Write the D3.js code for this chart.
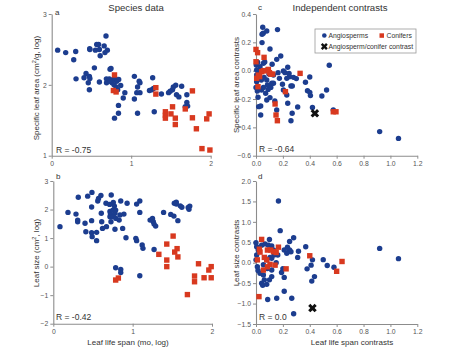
<!DOCTYPE html>
<html>
<head>
<meta charset="utf-8">
<script src="https://cdn.jsdelivr.net/npm/d3@7"></script>
<style>
  html, body { margin: 0; padding: 0; background: #fff; }
  svg { display: block; font-family: "Liberation Sans", Arial, Helvetica, sans-serif; }
</style>
</head>
<body>
<svg id="chart" width="474" height="355"></svg>
<script>
// ---------- DATA ----------
// Panel a: Specific leaf area (log) vs leaf life span (log)
const slaAngio = [
  [0.075,2.49],[0.176,2.455],[0.302,2.47],[0.277,2.355],[0.306,2.085],[0.407,2.10],[0.432,2.16],
  [0.478,2.51],[0.48,2.50],[0.474,2.12],[0.48,2.09],[0.46,2.03],[0.474,1.93],[0.537,2.24],
  [0.566,2.57],[0.59,2.57],[0.55,2.49],[0.60,2.50],[0.61,2.41],[0.60,2.04],[0.66,2.55],
  [0.683,2.69],[0.70,2.49],[0.67,2.455],[0.69,2.03],[0.734,2.22],[0.746,2.23],[0.688,2.085],
  [0.725,2.085],[0.776,2.076],[0.797,2.09],[0.818,2.05],[0.843,2.076],[0.759,2.03],[0.734,2.05],
  [0.784,2.0],[0.868,1.99],[0.81,1.97],[0.83,1.93],[0.79,1.53],[0.84,1.71],[0.84,1.60],
  [0.90,1.815],[0.92,1.89],[1.04,2.12],[1.04,1.80],[1.07,1.89],[1.08,1.97],[1.10,2.05],
  [1.11,2.03],[1.08,1.60],[1.11,1.89],[1.26,1.93],[1.27,2.10],[1.23,1.92],[1.28,1.95],
  [1.29,1.62],[1.38,1.87],[1.47,1.89],[1.49,1.91],[1.52,1.93],[1.53,1.97],[1.56,1.995],
  [1.57,1.86],[1.60,1.83],[1.635,1.98],[1.70,1.86],[1.70,1.75],[1.71,1.70],[1.68,1.69]
];
const slaConifer = [
  [0.79,2.14],[0.776,1.92],[0.81,1.90],[1.31,1.96],[1.31,1.87],[1.52,1.69],[1.43,1.62],
  [1.43,1.57],[1.43,1.53],[1.50,1.59],[1.555,1.53],[1.555,1.44],[1.68,1.66],[1.77,1.915],
  [1.77,1.535],[1.82,1.38],[1.89,1.10],[1.99,1.08],[1.95,1.52],[1.98,1.59]
];
// Panel b: Leaf size (log) vs leaf life span (log)
const sizeAngio = [
  [0.084,1.40],[0.185,1.90],[0.286,1.84],[0.307,1.63],[0.307,1.57],[0.315,2.43],[0.40,1.52],
  [0.41,1.22],[0.433,2.47],[0.483,2.09],[0.487,2.60],[0.483,1.61],[0.483,1.19],[0.49,1.05],
  [0.546,1.20],[0.546,0.91],[0.56,2.30],[0.57,2.39],[0.60,2.49],[0.605,1.87],[0.61,1.57],
  [0.62,1.34],[0.664,2.22],[0.67,1.40],[0.73,2.51],[0.71,2.18],[0.714,1.93],[0.72,1.84],
  [0.714,1.75],[0.727,1.57],[0.756,2.25],[0.77,2.12],[0.75,1.98],[0.777,1.87],[0.786,1.98],
  [0.756,1.75],[0.79,1.69],[0.777,1.31],[0.85,2.30],[0.84,1.81],[0.83,1.63],[0.89,1.84],
  [0.874,1.34],[0.916,1.01],[0.93,2.22],[0.786,-0.04],[0.85,-0.10],[0.85,-0.21],[1.05,2.19],
  [1.09,2.30],[1.09,1.90],[1.04,0.99],[1.05,0.91],[1.12,0.76],[1.13,0.64],[1.09,-0.32],
  [1.22,1.63],[1.25,1.69],[1.26,1.57],[1.27,1.49],[1.29,1.42],[1.27,0.60],[1.39,1.90],
  [1.48,1.83],[1.52,1.77],[1.525,2.22],[1.55,2.26],[1.55,2.19],[1.57,1.61],[1.60,2.13],
  [1.62,2.08],[1.70,2.07],[1.72,2.12],[1.71,2.01]
];
const sizeConifer = [
  [0.786,-0.47],[0.82,-0.40],[1.33,0.43],[1.43,0.79],[1.43,0.23],[1.43,0.00],[1.51,1.07],
  [1.53,0.51],[1.56,0.63],[1.57,0.34],[1.69,-0.98],[1.78,-0.33],[1.78,-0.53],[1.83,0.10],
  [1.90,-0.39],[1.96,-0.12],[1.99,0.00],[1.99,-0.39]
];
// Panel c: SLA contrasts vs leaf life span contrasts
const slaContrAngio = [
  [0.05,0.306],[0.054,0.264],[0.045,0.257],[0.08,0.28],[0.16,0.29],[0.045,0.198],[0.104,0.153],
  [0.002,0.04],[0.012,0.059],[0.03,0.028],[0.005,0.005],[0.02,-0.007],[0.055,0.052],[0.065,0.061],
  [0.12,0.045],[0.154,0.08],[0.184,0.104],[0.164,-0.014],[0.204,-0.002],[0.216,-0.014],[0.236,0.024],
  [0.246,-0.019],[0.249,-0.042],[0.229,-0.054],[0.279,-0.047],[0.30,-0.056],[0.26,-0.108],[0.27,-0.108],
  [0.197,-0.096],[0.204,-0.136],[0.229,-0.172],[0.236,-0.23],[0.31,-0.256],[0.269,-0.30],[0.26,-0.353],
  [0.368,-0.082],[0.383,-0.141],[0.40,-0.045],[0.40,-0.153],[0.405,-0.176],[0.42,-0.259],[0.49,-0.179],
  [0.525,-0.136],[0.545,0.038],[0.575,-0.278],[0.92,-0.43],[1.06,-0.478],
  [0.005,-0.031],[0.005,-0.078],[0.0,-0.118],[0.01,-0.143],[0.015,-0.188],[0.02,-0.254],[0.035,-0.313],
  [0.035,-0.249],[0.04,-0.066],[0.06,-0.047],[0.08,-0.066],[0.085,-0.101],[0.09,-0.132],[0.11,-0.118],
  [0.117,-0.089],[0.097,-0.024],[0.13,-0.031],[0.08,0.005],[0.072,-0.16],[0.08,-0.207],[0.104,-0.19],
  [0.042,-0.136],[0.055,-0.118],[0.14,-0.214],[0.154,-0.278],[0.174,-0.054],[0.13,-0.089]
];
const slaContrConifer = [
  [0.0,0.15],[0.012,0.127],[0.0,0.063],[0.06,0.094],[0.017,-0.031],[0.005,-0.054],[0.015,-0.113],
  [0.042,-0.007],[0.055,0.0],[0.075,0.0],[0.092,0.009],[0.10,-0.014],[0.11,-0.024],[0.124,-0.024],
  [0.027,-0.042],[0.142,-0.235],[0.149,-0.313],[0.159,-0.353],[0.219,-0.148],[0.328,-0.019],
  [0.575,-0.29],[0.595,-0.29]
];
const slaContrCross = [[0.438,-0.301]];
// Panel d: Leaf size contrasts vs leaf life span contrasts
const sizeContrAngio = [
  [0.167,1.51],[0.18,0.785],[0.0,0.49],[0.10,0.57],[0.28,0.61],[0.25,0.52],[0.37,0.39],
  [0.21,0.31],[0.234,0.38],[0.25,0.31],[0.26,0.27],[0.229,0.23],[0.316,0.28],[0.31,0.13],
  [0.42,0.07],[0.50,0.075],[0.53,-0.07],[0.58,-0.11],[0.38,-0.15],[0.41,-0.06],[0.20,-0.145],
  [0.21,-0.36],[0.19,-0.24],[0.435,-0.34],[0.415,-0.45],[0.21,-0.70],[0.266,-0.87],[0.28,-1.25],
  [0.154,-0.87],[0.087,-0.90],[0.92,0.35],[1.06,0.10],[0.10,-0.42],[0.117,-0.34],[0.042,-0.50],
  [0.05,-0.55],[0.08,-0.53],[0.062,-0.42],
  [0.005,0.39],[0.017,0.31],[0.005,0.19],[0.0,0.07],[0.01,-0.1],[0.015,-0.19],[0.03,-0.26],
  [0.055,-0.30],[0.042,0.43],[0.067,0.46],[0.092,0.43],[0.117,0.41],[0.13,0.31],[0.134,0.19],
  [0.104,0.13],[0.08,0.07],[0.055,-0.05],[0.085,-0.14],[0.117,-0.18],[0.117,0.11],[0.15,0.0],
  [0.162,0.19]
];
const sizeContrConifer = [
  [0.042,0.57],[0.025,0.33],[0.03,0.26],[0.01,0.07],[0.062,0.13],[0.085,0.31],[0.11,0.31],
  [0.13,0.27],[0.15,0.25],[0.167,0.38],[0.08,0.07],[0.104,-0.04],[0.055,-0.18],[0.085,-0.10],
  [0.142,-0.06],[0.224,-0.15],[0.40,0.17],[0.60,-0.21],[0.64,0.03],[0.022,-0.83]
];
const sizeContrCross = [[0.42,-1.11]];

// Tick values
const ticksSpeciesX = [0, 1, 2];
const ticksSlaY = [1, 2, 3];
const ticksSizeY = [-2, -1, 0, 1, 2, 3];
const ticksContrX = [0, 0.2, 0.4, 0.6, 0.8, 1.0, 1.2];
const ticksSlaContrY = [-0.6, -0.4, -0.2, 0.0, 0.2, 0.4];
const ticksSizeContrY = [-1.5, -1.0, -0.5, 0.0, 0.5, 1.0, 1.5, 2.0];

// Labels
const rValues = ["R = -0.75", "R = -0.42", "R = -0.64", "R = 0.0"];
const legendLabels = ["Angiosperms", "Conifers", "Angiosperm/conifer contrast"];

// ---------- STYLE ----------
const BLUE = "#1c3d8f";
const RED = "#d8391f";
const AXIS = "#8c8c8c";
const TEXT = "#333";

const svg = d3.select("#chart");

const panels = [
  { letter: "a", angio: slaAngio, conifer: slaConifer, cross: null,
    xd: [0, 2], xr: [51.7, 210.7], yd: [1, 3], yr: [155.7, 14],
    xt: ticksSpeciesX, yt: ticksSlaY, xf: d3.format("d"), yf: d3.format("d"),
    r: rValues[0], letterPos: [55, 15], rPos: [56, 153] },
  { letter: "b", angio: sizeAngio, conifer: sizeConifer, cross: null,
    xd: [0, 2], xr: [53.3, 212], yd: [-2, 3], yr: [323.7, 181],
    xt: ticksSpeciesX, yt: ticksSizeY, xf: d3.format("d"), yf: d3.format("d"),
    r: rValues[1], letterPos: [56, 179], rPos: [56, 320] },
  { letter: "c", angio: slaContrAngio, conifer: slaContrConifer, cross: slaContrCross,
    xd: [0, 1.2], xr: [256, 417.3], yd: [-0.6, 0.4], yr: [155.7, 14],
    xt: ticksContrX, yt: ticksSlaContrY, xf: d3.format(".1f"), yf: d3.format(".1f"),
    r: rValues[2], letterPos: [258, 10], rPos: [259, 152] },
  { letter: "d", angio: sizeContrAngio, conifer: sizeContrConifer, cross: sizeContrCross,
    xd: [0, 1.2], xr: [256, 417.3], yd: [-1.5, 2.0], yr: [324, 181],
    xt: ticksContrX, yt: ticksSizeContrY, xf: d3.format(".1f"), yf: d3.format(".1f"),
    r: rValues[3], letterPos: [258, 179], rPos: [259, 320] }
];

const crossPath = d3.symbol().type(d3.symbolCross).size(46)();

panels.forEach(p => {
  const x = d3.scaleLinear().domain(p.xd).range(p.xr);
  const y = d3.scaleLinear().domain(p.yd).range(p.yr);
  const g = svg.append("g");

  const xAxis = g.append("g")
    .attr("transform", `translate(0,${p.yr[0]})`)
    .call(d3.axisBottom(x).tickValues(p.xt).tickFormat(p.xf).tickSize(3).tickPadding(2).tickSizeOuter(0));
  const yAxis = g.append("g")
    .attr("transform", `translate(${p.xr[0]},0)`)
    .call(d3.axisLeft(y).tickValues(p.yt).tickFormat(p.yf).tickSize(3).tickPadding(2).tickSizeOuter(0));
  [xAxis, yAxis].forEach(a => {
    a.select(".domain").attr("stroke", AXIS).attr("stroke-width", 1.1);
    a.selectAll(".tick line").attr("stroke", AXIS);
    a.selectAll(".tick text").attr("fill", "#555").style("font-size", "6.8px")
      .style("font-family", '"Liberation Sans", Arial, sans-serif');
  });

  // Angiosperms
  g.append("g").selectAll("circle").data(p.angio).join("circle")
    .attr("cx", d => x(d[0])).attr("cy", d => y(d[1])).attr("r", 2.7)
    .attr("fill", BLUE);
  // Conifers
  g.append("g").selectAll("rect").data(p.conifer).join("rect")
    .attr("x", d => x(d[0]) - 2.7).attr("y", d => y(d[1]) - 2.7)
    .attr("width", 5.4).attr("height", 5.4).attr("fill", RED);
  // Cross
  if (p.cross) {
    g.append("g").selectAll("path").data(p.cross).join("path")
      .attr("d", crossPath)
      .attr("transform", d => `translate(${x(d[0])},${y(d[1])}) rotate(45)`)
      .attr("fill", "#111");
  }

  g.append("text").attr("x", p.letterPos[0]).attr("y", p.letterPos[1])
    .attr("fill", TEXT).style("font-size", "8px").text(p.letter);
  g.append("text").attr("x", p.rPos[0]).attr("y", p.rPos[1])
    .attr("fill", TEXT).style("font-size", "8.5px").text(p.r);
});

// Titles
svg.append("text").attr("x", 136).attr("y", 10.5).attr("text-anchor", "middle")
  .attr("fill", TEXT).style("font-size", "9.6px").text("Species data");
svg.append("text").attr("x", 340).attr("y", 10.5).attr("text-anchor", "middle")
  .attr("fill", TEXT).style("font-size", "9.6px").text("Independent contrasts");

// X labels
svg.append("text").attr("x", 128).attr("y", 345).attr("text-anchor", "middle")
  .attr("fill", TEXT).style("font-size", "8px").text("Leaf life span (mo, log)");
svg.append("text").attr("x", 352).attr("y", 345).attr("text-anchor", "middle")
  .attr("fill", TEXT).style("font-size", "8px").text("Leaf life span contrasts");

// Y labels
function yLabel(cx, cy, parts) {
  const t = svg.append("text")
    .attr("transform", `translate(${cx},${cy}) rotate(-90)`)
    .attr("text-anchor", "middle").attr("fill", TEXT).style("font-size", "8px");
  parts.forEach(pt => {
    const s = t.append("tspan").text(pt.t);
    if (pt.sup) s.attr("baseline-shift", "super").style("font-size", "5.5px");
  });
}
yLabel(39, 88, [{t: "Specific leaf area (cm"}, {t: "2", sup: true}, {t: "/g, log)"}]);
yLabel(39, 253, [{t: "Leaf size (cm"}, {t: "2", sup: true}, {t: ", log)"}]);
yLabel(239, 85, [{t: "Specific leaf area contrasts"}]);
yLabel(239, 253, [{t: "Leaf size contrasts"}]);

// Legend
const lg = svg.append("g");
lg.append("rect").attr("x", 315).attr("y", 29).attr("width", 101).attr("height", 24)
  .attr("fill", "#fff").attr("stroke", "#999").attr("stroke-width", 0.8);
lg.append("circle").attr("cx", 324.3).attr("cy", 35.5).attr("r", 2.3).attr("fill", BLUE);
lg.append("text").attr("x", 328.5).attr("y", 38).attr("fill", TEXT).style("font-size", "6.8px").text(legendLabels[0]);
lg.append("rect").attr("x", 379.5).attr("y", 33.3).attr("width", 4.5).attr("height", 4.5).attr("fill", RED);
lg.append("text").attr("x", 386.5).attr("y", 38).attr("fill", TEXT).style("font-size", "6.8px").text(legendLabels[1]);
lg.append("path").attr("d", d3.symbol().type(d3.symbolCross).size(30)())
  .attr("transform", "translate(324.3,46.5) rotate(45)").attr("fill", "#111");
lg.append("text").attr("x", 328.5).attr("y", 49).attr("fill", TEXT).style("font-size", "6.8px").text(legendLabels[2]);
</script>
</body>
</html>
